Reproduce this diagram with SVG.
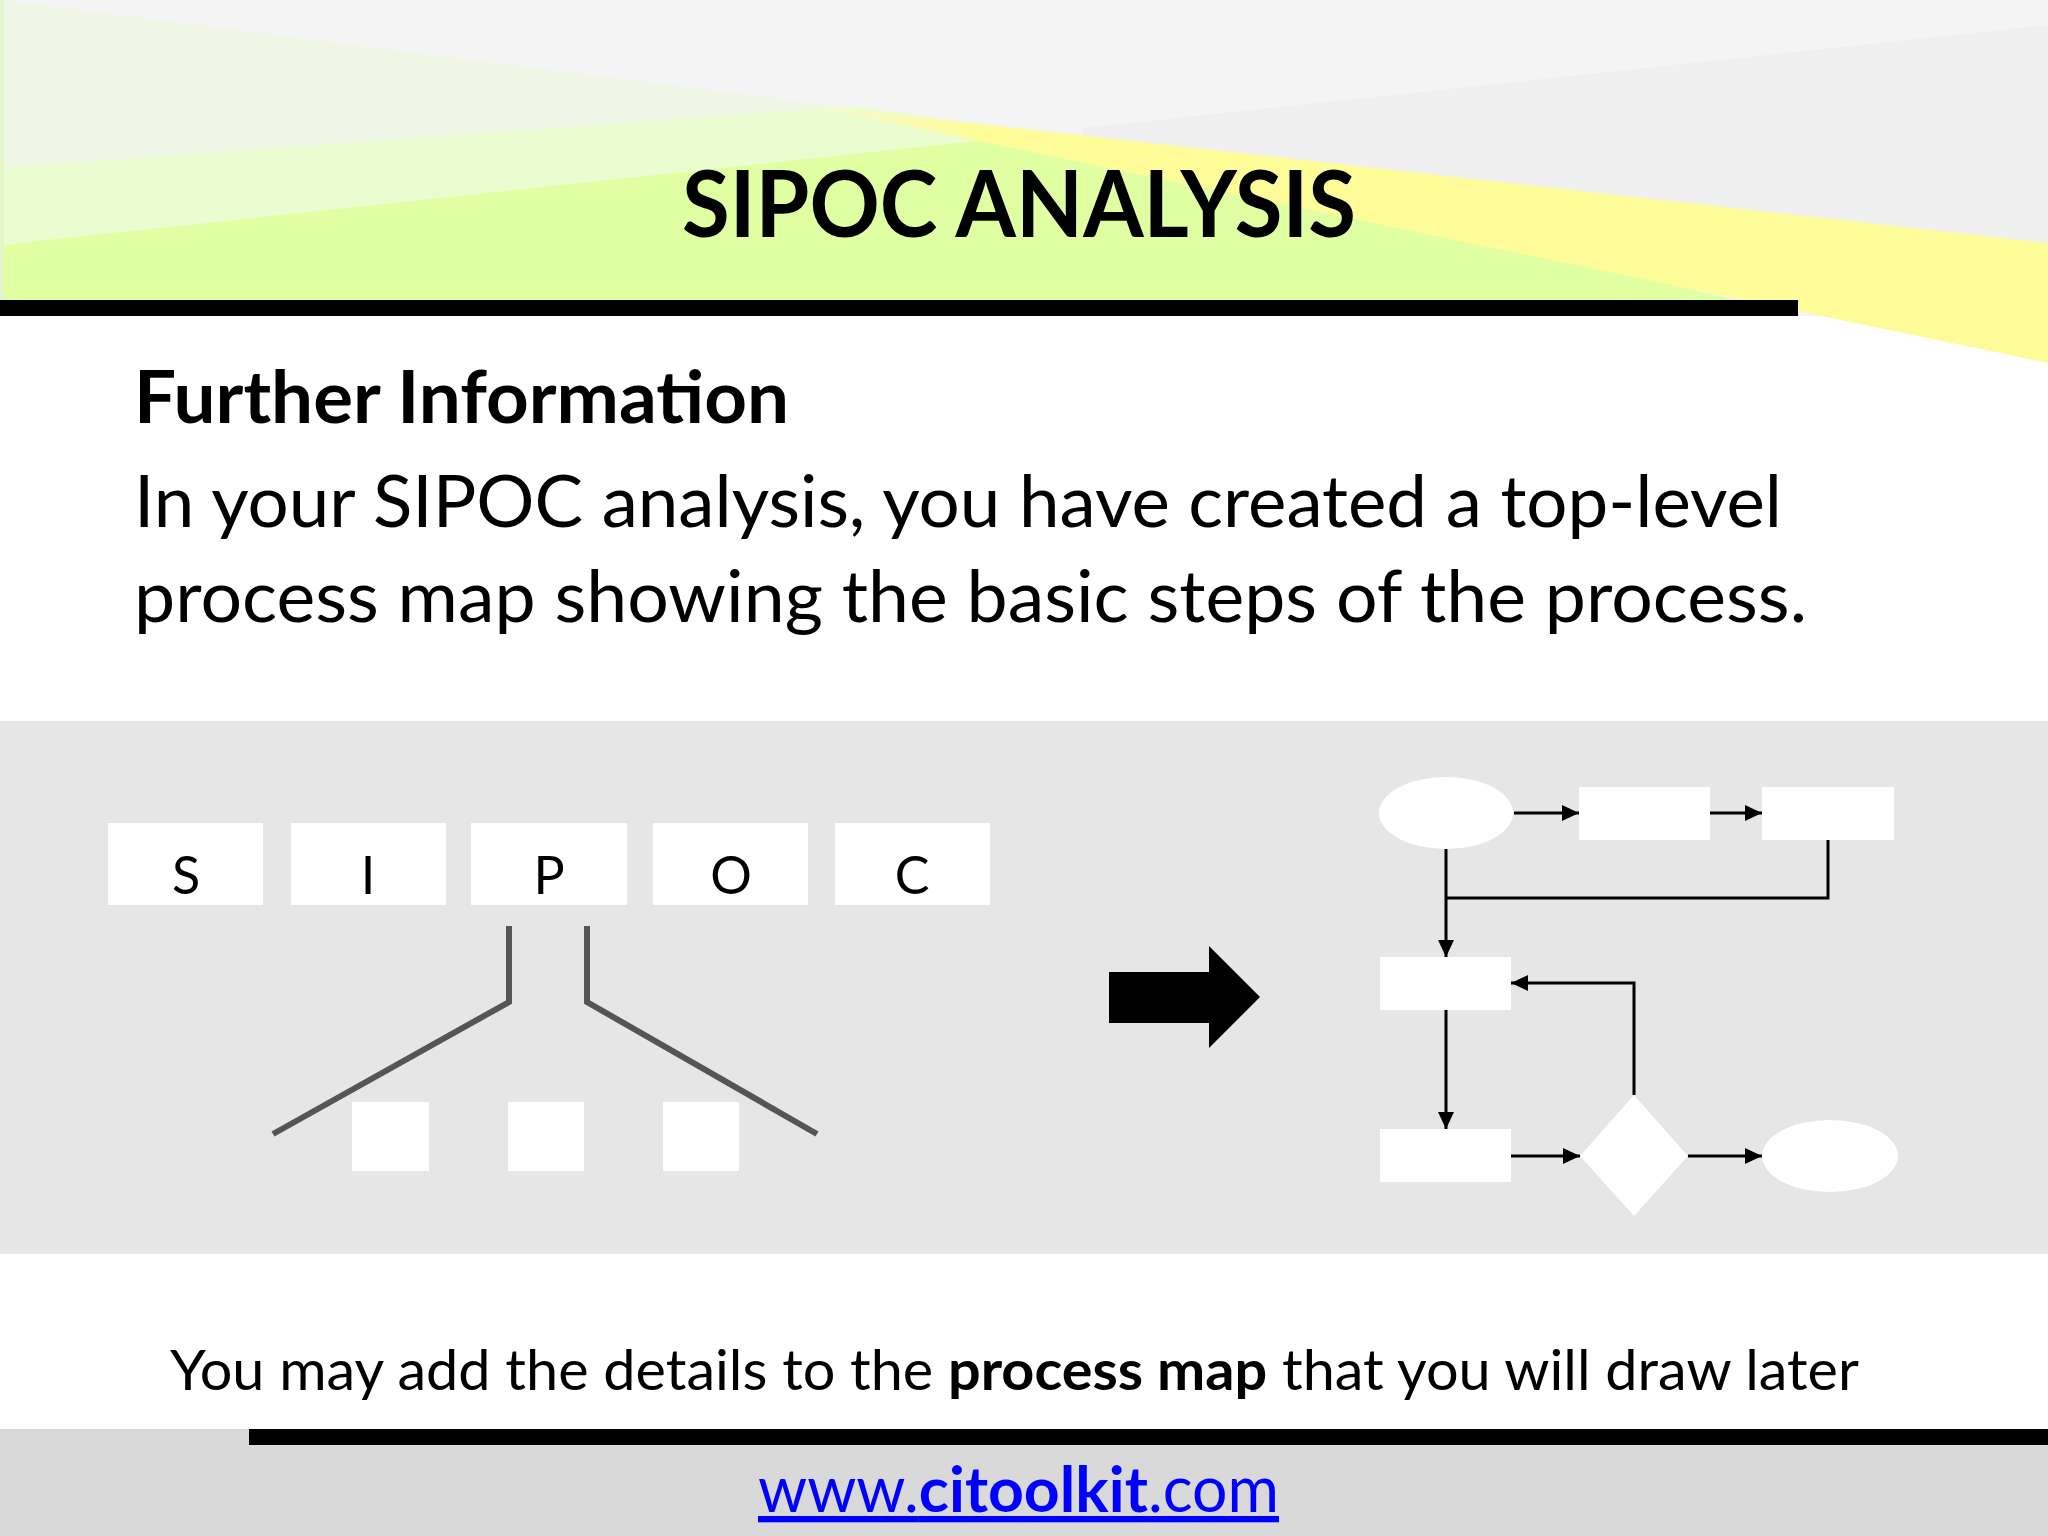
<svg xmlns="http://www.w3.org/2000/svg" width="2048" height="1536" viewBox="0 0 2048 1536">
<style>
.t{font-family:Lato,"Liberation Sans",sans-serif;fill:#000}
.node{fill:#fff;stroke:none}
.conn{fill:none;stroke:#000;stroke-width:3}
.br{fill:none;stroke:#555;stroke-width:6;stroke-linejoin:miter}
</style>
<defs>
<marker id="ah" markerUnits="userSpaceOnUse" markerWidth="18" markerHeight="18" refX="17" refY="8" orient="auto">
<path d="M0,0 L17,8 L0,16 z" fill="#000"/>
</marker>
<linearGradient id="yg" gradientUnits="userSpaceOnUse" x1="800" y1="0" x2="980" y2="0">
<stop offset="0" stop-color="#f4f8dc"/>
<stop offset="1" stop-color="#fdfc98"/>
</linearGradient>
</defs>
<rect x="0" y="0" width="2048" height="1536" fill="#fff"/>
<g id="header-bg">
<rect x="0" y="0" width="2048" height="316" fill="#f4f4f4"/>
<polygon points="1083,128 2048,25 2048,250 1083,140" fill="#efefef"/>
<polygon points="0,0 842,107 0,300" fill="#eff6e5"/>
<polygon points="0,168 856,106 1050,135 0,245" fill="#e9fdd0"/>
<polygon points="0,245 1050,133 1800,316 0,316" fill="#e0ffa3"/>
<rect x="0" y="0" width="4" height="300" fill="#e3f4c8"/>
<polygon points="800,104 2048,243 2048,363" fill="url(#yg)"/>
<rect x="0" y="300" width="1798" height="16" fill="#000"/>
</g>
<text class="t" x="682" y="237" font-size="92" font-weight="bold" textLength="674" lengthAdjust="spacingAndGlyphs">SIPOC ANALYSIS</text>
<g id="intro">
<text class="t" x="134" y="423" font-size="72" font-weight="bold" textLength="655" lengthAdjust="spacingAndGlyphs">Further Information</text>
<text class="t" x="134" y="527" font-size="72" textLength="1648" lengthAdjust="spacingAndGlyphs">In your SIPOC analysis, you have created a top-level</text>
<text class="t" x="134" y="622" font-size="72" textLength="1673" lengthAdjust="spacingAndGlyphs">process map showing the basic steps of the process.</text>
</g>
<rect x="0" y="721" width="2048" height="533" fill="#e6e6e6"/>
<g id="sipoc">
<g id="box-s"><rect class="node" x="108" y="823" width="155" height="82"/><text class="t" x="186" y="894" font-size="52" text-anchor="middle">S</text></g>
<g id="box-i"><rect class="node" x="291" y="823" width="155" height="82"/><text class="t" x="368" y="894" font-size="52" text-anchor="middle">I</text></g>
<g id="box-p"><rect class="node" x="471" y="823" width="156" height="82"/><text class="t" x="549" y="894" font-size="52" text-anchor="middle">P</text></g>
<g id="box-o"><rect class="node" x="653" y="823" width="155" height="82"/><text class="t" x="731" y="894" font-size="52" text-anchor="middle">O</text></g>
<g id="box-c"><rect class="node" x="835" y="823" width="155" height="82"/><text class="t" x="912" y="894" font-size="52" text-anchor="middle">C</text></g>
<g id="bracket">
<polyline class="br" points="509,926 509,1002 273,1134"/>
<polyline class="br" points="587,926 587,1002 817,1134"/>
</g>
<g id="sub1"><rect class="node" x="352" y="1102" width="77" height="69"/></g>
<g id="sub2"><rect class="node" x="508" y="1102" width="76" height="69"/></g>
<g id="sub3"><rect class="node" x="663" y="1102" width="76" height="69"/></g>
</g>
<g id="big-arrow"><polygon points="1109,972 1209,972 1209,946 1260,997 1209,1048 1209,1023 1109,1023" fill="#000"/></g>
<g id="flow">
<g id="start"><ellipse class="node" cx="1446" cy="813" rx="67" ry="36"/></g>
<g id="step1"><rect class="node" x="1579" y="787" width="131" height="53"/></g>
<g id="step2"><rect class="node" x="1762" y="787" width="132" height="53"/></g>
<g id="step3"><rect class="node" x="1380" y="957" width="131" height="53"/></g>
<g id="step4"><rect class="node" x="1380" y="1129" width="131" height="53"/></g>
<g id="decision"><polygon class="node" points="1634,1095 1688,1156 1634,1216 1580,1156"/></g>
<g id="end"><ellipse class="node" cx="1830" cy="1156" rx="68" ry="36"/></g>
</g>
<g id="connectors">
<path class="conn" d="M1514,813 H1579" marker-end="url(#ah)"/>
<path class="conn" d="M1710,813 H1762" marker-end="url(#ah)"/>
<path class="conn" d="M1446,849 V957" marker-end="url(#ah)"/>
<path class="conn" d="M1828,840 V898 H1446"/>
<path class="conn" d="M1446,1010 V1129" marker-end="url(#ah)"/>
<path class="conn" d="M1511,1156 H1580" marker-end="url(#ah)"/>
<path class="conn" d="M1688,1156 H1762" marker-end="url(#ah)"/>
<path class="conn" d="M1634,1095 V983 H1511" marker-end="url(#ah)"/>
</g>
<text class="t" x="170" y="1390" font-size="56" textLength="1689" lengthAdjust="spacingAndGlyphs">You may add the details to the <tspan font-weight="bold">process map</tspan> that you will draw later</text>
<rect x="0" y="1429" width="2048" height="107" fill="#d9d9d9"/>
<rect x="249" y="1429" width="1799" height="16" fill="#000"/>
<text x="758" y="1512" font-family="Lato,'Liberation Sans',sans-serif" font-size="63" fill="#0000ff" text-decoration="underline" textLength="521" lengthAdjust="spacingAndGlyphs">www.<tspan font-weight="bold">citoolkit</tspan>.com</text>
</svg>
